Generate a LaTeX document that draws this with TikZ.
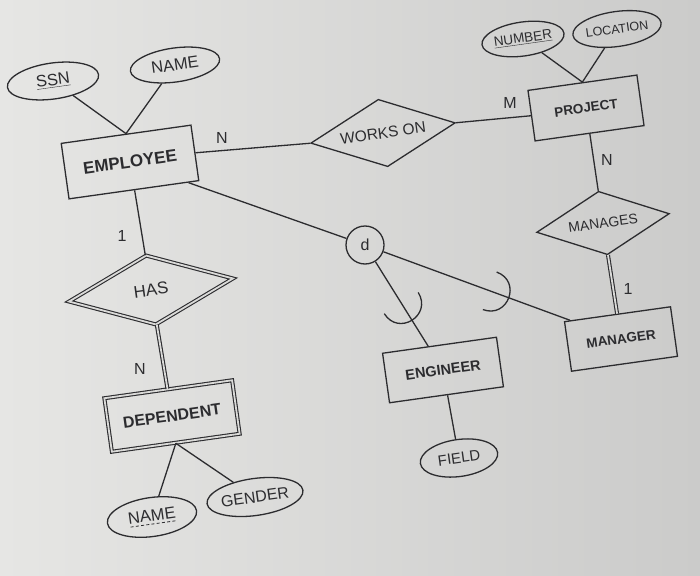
\documentclass[tikz,border=0pt]{standalone}
\usepackage{fontspec}
\setmainfont{Liberation Sans}
\usetikzlibrary{shapes.geometric}
\definecolor{ink}{RGB}{44,44,47}
\definecolor{paper}{RGB}{218,218,216}
\definecolor{paperL}{RGB}{230,230,228}
\definecolor{paperR}{RGB}{203,203,202}
\newsavebox\dubox
\newcommand\dashund[1]{\sbox\dubox{#1}\rlap{\raisebox{-3.5pt}{\hbox to \wd\dubox{\xleaders\hbox to 5pt{\hss\rule{3pt}{0.8pt}\hss}\hfill}}}\usebox\dubox}
\newcommand\fsz[1]{\fontsize{#1}{#1}\selectfont}

\begin{document}
\begin{tikzpicture}[
  x=1pt, y=-1pt,
  line/.style={draw=ink, line width=1.3pt},
  dline/.style={draw=ink, line width=1.1pt, double=paper, double distance=1.8pt},
  entity/.style={
    rectangle, draw=ink, line width=1.3pt, rotate=8,
    text=ink, font=\bfseries\fsz{#1}
  },
  entity/.default=15,
  weak/.style={entity=#1, line width=1.1pt, double=paper, double distance=1.8pt},
  weak/.default=15,
  attr/.style={
    ellipse, draw=ink, line width=1.3pt, rotate=8, inner sep=0pt,
    text=ink, font=\fsz{#1}
  },
  attr/.default=15.5,
  rel/.style={
    diamond, draw=ink, line width=1.3pt, rotate=8, inner sep=0pt, aspect=2,
    text=ink, font=\fsz{#1}
  },
  rel/.default=15,
  card/.style={text=ink, font=\fsz{16}},
  subarc/.pic={\draw[line] (-6,-20) .. controls (21,-20) and (21,20) .. (-6,20);}
]

% --- Fundo ---
\shade[left color=paperL, right color=paperR] (0,0) rectangle (700,575);
\useasboundingbox (0,0) rectangle (700,575);

% --- Entidades ---
\node[entity=17, minimum width=131pt, minimum height=56pt] (emp) at (130,162) {EMPLOYEE};
\node[entity=13.5, minimum width=110pt, minimum height=51pt] (proj) at (586,108) {PROJECT};
\node[entity=13.5, minimum width=107pt, minimum height=50pt] (mgr) at (621,339) {MANAGER};
\node[entity=14.5, minimum width=115pt, minimum height=50pt] (eng) at (443,370) {ENGINEER};
\node[weak=16, minimum width=129pt, minimum height=54pt] (dep) at (172,416) {DEPENDENT};

% --- Atributos ---
\node[attr=16.5, minimum width=92pt, minimum height=36pt] (ssn) at (53,81) {\underline{SSN}};
\node[attr=16.5, minimum width=90pt, minimum height=34pt] (ename) at (175,65) {NAME};
\node[attr=13.5, minimum width=76pt, minimum height=34pt] (num) at (523,39) {\underline{NUMBER}};
\node[attr=12.5, minimum width=71pt, minimum height=35pt] (loc) at (617,29) {LOCATION};
\node[attr=15, minimum width=78pt, minimum height=37pt] (field) at (459,458) {FIELD};
\node[attr=16.5, minimum width=90pt, minimum height=39pt] (dname) at (152,517) {\dashund{NAME}};
\node[attr=16, minimum width=86pt, minimum height=37pt] (gender) at (255,497) {GENDER};

% --- Relacionamentos ---
\node[rel=15.5, minimum width=146pt, minimum height=68pt] (works) at (383,133) {WORKS ON};
\node[rel=14, minimum width=134pt, minimum height=64pt] (manages) at (603,223) {MANAGES};
\node[rel=17, line width=1.1pt, double=paper, double distance=1.8pt, minimum width=166pt, minimum height=70pt] (has) at (151,290) {HAS};

% --- Especializacao ---
\node[circle, draw=ink, line width=1.3pt, minimum size=38pt, inner sep=0pt, card] (d) at (365,245) {d};

% --- Ligacoes ---
\draw[line] (ssn) -- (emp.north);
\draw[line] (ename) -- (emp.north);
\draw[line] (emp.east) -- (works.west);
\draw[line] (works.east) -- (proj.west);
\draw[line] (num) -- (proj.north);
\draw[line] (loc) -- (proj.north);
\draw[line] (proj) -- (manages);
\draw[dline] (manages) -- (mgr);
\draw[line] (emp) -- (has);
\draw[dline] (has) -- (dep);
\draw[line] (dep.south) -- (dname);
\draw[line] (dep.south) -- (gender);
\draw[line] (emp) -- (d);
\draw[line] (d) -- (eng) pic[pos=0.55, sloped] {subarc};
\draw[line] (d) -- (mgr) pic[pos=0.6, sloped] {subarc};
\draw[line] (eng) -- (field);

% --- Cardinalidades ---
\node[card] (cEW) at (222,138) {N};
\node[card] (cWP) at (510,103) {M};
\node[card] (cPM) at (607,160) {N};
\node[card] (cMM) at (628,289) {1};
\node[card] (cEH) at (122,236) {1};
\node[card] (cHD) at (140,369) {N};

\end{tikzpicture}
\end{document}
